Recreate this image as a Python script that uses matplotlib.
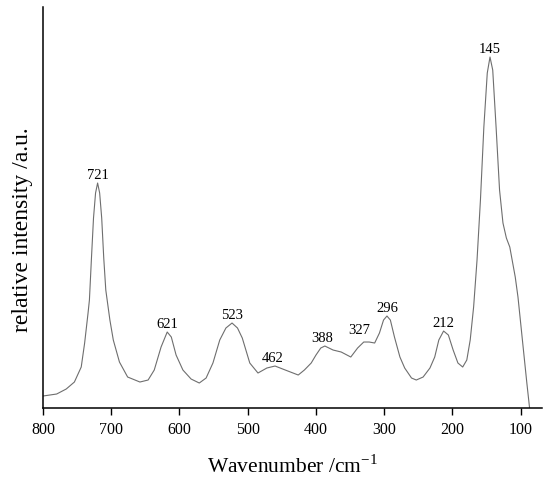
import matplotlib
matplotlib.use("Agg")
import matplotlib.pyplot as plt

# spectrum points (wavenumber /cm-1, relative intensity)
wavenumber = [800, 790, 780, 766, 754, 744, 739, 734, 732, 729, 726, 723, 720,
              717, 714, 711, 708, 706, 702, 697, 688, 676, 658, 646, 637, 627,
              618, 612, 605, 595, 583, 571, 561, 551, 541, 532, 523, 515, 508,
              497, 485, 472, 460, 445, 426, 417, 407, 400, 393, 387, 375, 363,
              349, 339, 330, 322, 314, 307, 301, 296, 291, 285, 277, 270, 260,
              253, 243, 233, 226, 220, 213, 206, 199, 192, 185, 179, 174, 169,
              164, 159, 154, 149, 145, 141, 136, 131, 126, 121, 116, 108, 104,
              96, 91, 87]
intensity = [12, 13, 14, 19, 26, 41, 65, 95, 108, 150, 190, 215, 225,
             215, 190, 150, 118, 108, 88, 68, 46, 31, 26, 28, 38, 61,
             76, 71, 53, 38, 29, 25, 30, 45, 68, 80, 85, 80, 70,
             45, 35, 40, 42, 38, 33, 38, 45, 53, 60, 62, 58, 56,
             51, 60, 66, 66, 65, 75, 88, 92, 88, 71, 51, 40, 30,
             28, 31, 40, 51, 68, 77, 73, 58, 45, 41, 48, 68, 101,
             148, 208, 281, 335, 351, 338, 280, 218, 185, 170, 161, 131, 111,
             58, 25, 0]

peak_labels = ["721", "621", "523", "462", "388", "327", "296", "212", "145"]
label_x = [720, 618, 523, 463, 391, 336, 296, 213, 145]
label_y = [225, 76, 85, 42, 62, 70, 92, 77, 351]

x_ticks = [800, 700, 600, 500, 400, 300, 200, 100]

plt.rcParams['font.family'] = ['Liberation Serif', 'DejaVu Serif']
plt.rcParams['mathtext.fontset'] = 'custom'
plt.rcParams['mathtext.rm'] = 'Liberation Serif'

fig = plt.figure(figsize=(5.5, 4.88), dpi=100)
ax = fig.add_axes([0.0782, 0.1639, 0.907, 0.8217])
ax.plot(wavenumber, intensity, color='#6e6e6e', lw=0.8)

for lab, xp, yp in zip(peak_labels, label_x, label_y):
    ax.annotate(lab, (xp, yp), xytext=(0, 3), textcoords='offset points',
                ha='center', va='baseline', fontsize=10.5)

ax.set_xlim(800, 69)
ax.set_ylim(0, 401)
ax.set_xticks(x_ticks)
ax.set_xticklabels([str(t) for t in x_ticks])
ax.tick_params(axis='x', direction='out', length=5, width=1, labelsize=11.5, pad=5)
ax.set_yticks([])
for s in ['top', 'right']:
    ax.spines[s].set_visible(False)
for s in ['left', 'bottom']:
    ax.spines[s].set_linewidth(1.1)

ax.set_xlabel('Wavenumber /cm$^{\\mathregular{-1}}$', fontsize=15.5)
ax.xaxis.set_label_coords(0.5, -0.118)
ax.set_ylabel('relative intensity /a.u.', fontsize=17)
ax.yaxis.set_label_coords(-0.02, 0.444)

fig.savefig('out.png', dpi=100)
